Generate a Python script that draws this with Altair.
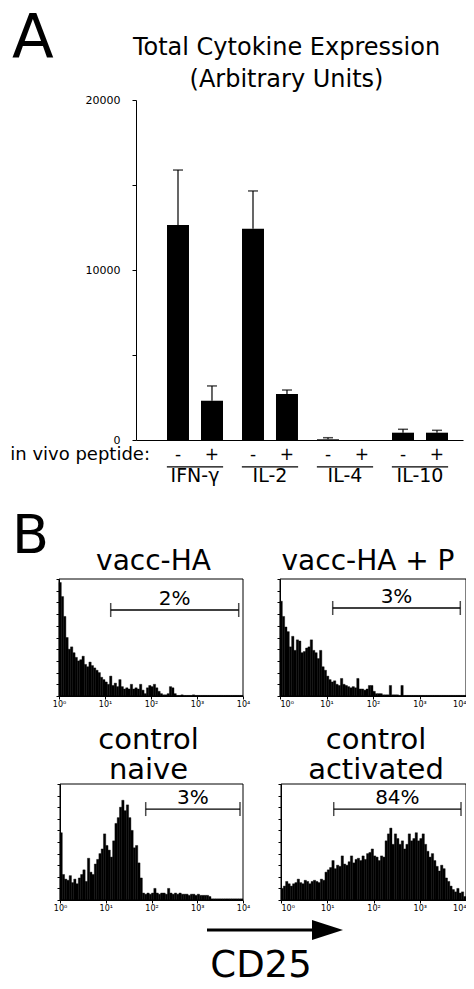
import altair as alt
import pandas as pd

# ---------------- data: panel A (total cytokine expression) ----------------
cytokine = ["IFN-γ", "IFN-γ", "IL-2", "IL-2", "IL-4", "IL-4", "IL-10", "IL-10"]
peptide = ["-", "+", "-", "+", "-", "+", "-", "+"]
expression = [12650, 2310, 12430, 2710, 40, 0, 430, 430]
expression_upper = [15880, 3180, 14650, 2940, 135, 0, 630, 570]
cytokine_order = ["IFN-γ", "IL-2", "IL-4", "IL-10"]
peptide_order = ["-", "+"]
expression_ticks = [0, 5000, 10000, 15000, 20000]

# ---------------- data: panel B (CD25 histograms, 20 channels per decade) ----------------
hist_vacc_ha = [97, 85, 68, 50, 40, 42, 37, 33, 30, 31,
                34, 27, 25, 29, 26, 24, 22, 20, 16, 14,
                12, 10, 17, 9, 11, 8, 14, 8, 6, 7,
                6, 10, 6, 7, 6, 10, 5, 2, 7, 9,
                8, 10, 7, 4, 2, 1, 1, 2, 8, 7,
                2, 0.5, 0.5, 1, 0.5, 0.5, 0.5, 0.5, 1, 0.5,
                0.5, 0.5, 0.5, 0.5, 0.5, 0.5, 0.5, 0.5, 0.5, 0.5,
                0.5, 0.5, 0.5, 0.5, 0.5, 0.5, 0.5, 0.5, 0.5, 0.5]
hist_vacc_ha_p = [81, 68, 59, 55, 42, 51, 39, 48, 47, 37,
                  38, 41, 42, 48, 39, 37, 32, 39, 25, 22,
                  17, 14, 12, 13, 10, 9, 15, 10, 9, 8,
                  7, 8, 7, 15, 6, 6, 5, 6, 9, 9,
                  4, 2, 2, 2, 1, 1, 1, 9, 1, 1,
                  1, 0.5, 9, 0.5, 0.5, 0.5, 0.5, 0.5, 0.5, 0.5,
                  0.5, 0.5, 0.5, 0.5, 0.5, 0.5, 0.5, 0.5, 0.5, 0.5,
                  0.5, 0.5, 0.5, 0.5, 0.5, 0.5, 0.5, 0.5, 0.5, 0.5]
hist_naive = [58, 22, 18, 17, 21, 15, 18, 14, 19, 22,
              26, 16, 36, 24, 22, 31, 35, 40, 44, 57,
              47, 43, 37, 51, 66, 71, 80, 86, 77, 82,
              71, 60, 45, 47, 32, 19, 6, 5, 6, 5,
              6, 10, 6, 5, 6, 6, 5, 10, 6, 5,
              6, 5, 6, 5, 5, 5, 4, 5, 5, 4,
              5, 4, 4, 4, 4, 3, 1, 1, 1, 1,
              1, 1, 1, 1, 1, 1, 1, 1, 1, 1]
hist_activated = [10, 12, 16, 14, 12, 14, 15, 18, 15, 14,
                  17, 16, 14, 16, 17, 16, 15, 18, 17, 24,
                  26, 28, 34, 27, 30, 29, 38, 31, 30, 33,
                  38, 32, 35, 36, 34, 38, 35, 40, 41, 44,
                  38, 37, 34, 38, 37, 51, 57, 62, 48, 57,
                  53, 48, 51, 44, 48, 57, 51, 53, 58, 51,
                  53, 57, 48, 42, 37, 40, 34, 29, 25, 30,
                  27, 19, 16, 12, 9, 7, 10, 6, 7, 3]
gate_low = [13.3, 13.6, 74.7, 13.8]
gate_high = [8070, 7540, 8600, 7800]
gate_level = [73.5, 75.2, 78.4, 78.4]
gate_percent = ["2%", "3%", "3%", "84%"]
decades = [1, 10, 100, 1000, 10000]
count_ticks = [0, 10, 20, 30, 40, 50, 60, 70, 80, 90, 100]
channels_per_decade = 20

# ---------------- layout ----------------
W, H = 458, 980
FONT = "DejaVu Sans"


def px(v):
    # page coordinate -> plot coordinate (page margin is 8px, padding 0)
    return v - 8


dummy = pd.DataFrame({"d": [0]})


def note(text, x, y, size, align="center", baseline="alphabetic", line_height=None):
    props = dict(text=text, fontSize=size, align=align, baseline=baseline, font=FONT, color="black")
    if line_height is not None:
        props["lineHeight"] = line_height
    return alt.Chart(dummy).mark_text(**props).encode(x=alt.value(px(x)), y=alt.value(px(y)))


# ---------------- panel A ----------------
bar_df = pd.DataFrame({"cytokine": cytokine, "peptide": peptide,
                       "value": expression, "upper": expression_upper})
group_df = pd.DataFrame({"cytokine": cytokine_order})

x_scale = alt.Scale(domain=cytokine_order, range=[px(136), px(463)],
                    paddingInner=0, paddingOuter=0.18, align=0.796)
xo_scale = alt.Scale(domain=peptide_order, paddingInner=0.353, paddingOuter=0.28)
y_scale = alt.Scale(domain=[0, 20000], range=[px(440), px(100)], nice=False)

x_axis = alt.Axis(orient="bottom", offset=px(440) - H, labels=False, ticks=False,
                  domainColor="black", domainWidth=1.2, grid=False)
y_axis = alt.Axis(orient="left", offset=-px(136), values=expression_ticks, format="d",
                  labelExpr="datum.value % 10000 === 0 ? datum.label : ''",
                  tickSize=4, labelPadding=12, labelFontSize=11, labelFont=FONT,
                  labelColor="black", tickColor="black", domainColor="black", grid=False)

X = alt.X("cytokine:N", scale=x_scale, title=None, axis=x_axis)
XO = alt.XOffset("peptide:N", scale=xo_scale)

base = alt.Chart(bar_df)
bars = base.mark_bar(color="black").encode(
    x=X, xOffset=XO, y=alt.Y("value:Q", scale=y_scale, title=None, axis=y_axis))
err = base.transform_filter("datum.upper > datum.value").mark_rule(
    color="black", strokeWidth=1.2).encode(
    x=X, xOffset=XO, y=alt.Y("value:Q", scale=y_scale, title=None, axis=y_axis), y2="upper:Q")
cap = base.transform_filter("datum.upper > datum.value").mark_tick(
    color="black", orient="horizontal", size=10, thickness=1.5).encode(
    x=X, xOffset=XO, y=alt.Y("upper:Q", scale=y_scale, title=None, axis=y_axis))
signs = base.mark_text(fontSize=17, font=FONT, baseline="middle", color="black").encode(
    x=X, xOffset=XO, y=alt.value(px(455)), text="peptide:N")
group_lines = alt.Chart(group_df).mark_bar(
    color="black", width=alt.RelativeBandSize(0.75)).encode(
    x=X, y=alt.value(px(466.2)), y2=alt.value(px(467.4)))
group_labels = alt.Chart(group_df).mark_text(
    fontSize=19, font=FONT, baseline="alphabetic", color="black").encode(
    x=X, y=alt.value(px(482)), text="cytokine:N")

panel_a = alt.layer(bars, err, cap, signs, group_lines, group_labels)


# ---------------- panel B ----------------
def histogram(counts, k, left, right, top, bottom, flush):
    n = len(counts)
    df = pd.DataFrame({
        "lo": [10 ** (i / channels_per_decade) for i in range(n)],
        "hi": [10 ** ((i + 1) / channels_per_decade) for i in range(n)],
        "count": counts,
    })
    frame_df = pd.DataFrame({"x0": [decades[0]], "x1": [decades[-1]], "y0": [0], "y1": [100]})
    gate_df = pd.DataFrame({"lo": [gate_low[k]], "hi": [gate_high[k]],
                            "level": [gate_level[k]], "pct": [gate_percent[k]]})
    xs = alt.Scale(type="log", domain=[decades[0], decades[-1]],
                   range=[px(left), px(right)], nice=False)
    ys = alt.Scale(domain=[0, 100], range=[px(bottom), px(top)], nice=False)
    xaxis = alt.Axis(orient="bottom", offset=px(bottom) - H, values=decades,
                     labelExpr="'10' + ['⁰','¹','²','³','⁴'][round(log(datum.value) / LN10)]",
                     tickSize=3, labelFontSize=8, labelPadding=1, labelFlush=flush,
                     labelFont=FONT, labelColor="black", tickColor="black",
                     domainColor="black", grid=False)
    yaxis = alt.Axis(orient="left", offset=-px(left), values=count_ticks, labels=False,
                     tickSize=3, tickColor="black", domainColor="black", grid=False)

    def xe(f):
        return alt.X(f, scale=xs, title=None, axis=xaxis)

    def ye(f):
        return alt.Y(f, scale=ys, title=None, axis=yaxis)

    bins = alt.Chart(df).mark_rect(color="black", stroke="black", strokeWidth=0.4).encode(
        x=xe("lo:Q"), x2="hi:Q", y=ye("count:Q"), y2=alt.datum(0))
    frame = alt.Chart(frame_df).mark_rect(fillOpacity=0, stroke="black", strokeWidth=1).encode(
        x=xe("x0:Q"), x2="x1:Q", y=ye("y0:Q"), y2="y1:Q")
    gate = alt.Chart(gate_df).mark_rule(color="black", strokeWidth=1.3).encode(
        x=xe("lo:Q"), x2="hi:Q", y=ye("level:Q"))
    ends = alt.Chart(gate_df).transform_fold(["lo", "hi"], as_=["end", "pos"]).mark_tick(
        orient="vertical", size=14, thickness=1.5, color="black").encode(
        x=xe("pos:Q"), y=ye("level:Q"))
    label = alt.Chart(gate_df).transform_calculate(mid="sqrt(datum.lo * datum.hi)").mark_text(
        fontSize=20, font=FONT, dy=-5, baseline="alphabetic", color="black").encode(
        x=xe("mid:Q"), y=ye("level:Q"), text="pct:N")
    return alt.layer(bins, frame, gate, ends, label)


h1 = histogram(hist_vacc_ha, 0, 59, 243, 579, 696, False)
h2 = histogram(hist_vacc_ha_p, 1, 280, 466, 579, 696, True)
h3 = histogram(hist_naive, 2, 60, 243, 784, 900, False)
h4 = histogram(hist_activated, 3, 281, 466, 784, 900, True)

notes = [
    note("A", 12, 57, 61, align="left"),
    note("Total Cytokine Expression", 286.5, 55, 24),
    note("(Arbitrary Units)", 286.5, 87, 24),
    note("in vivo peptide:", 150, 460, 18, align="right"),
    note("B", 12, 553, 54, align="left"),
    note("vacc-HA", 153.5, 570, 28),
    note("vacc-HA + P", 368, 570, 28),
    note(["control", "naive"], 148.5, 748.5, 29, line_height=30),
    note(["control", "activated"], 376, 748.5, 29, line_height=30),
    note("CD25", 261, 977, 37),
]

shaft = alt.Chart(dummy).mark_rule(color="black", strokeWidth=3).encode(
    x=alt.value(px(207)), x2=alt.value(px(316)), y=alt.value(px(930)))
head = alt.Chart(dummy).mark_point(
    shape="M -1 -0.65 L 1 0 L -1 0.65 Z", size=961, filled=True, color="black", opacity=1
).encode(x=alt.value(px(327.5)), y=alt.value(px(930)))

chart = alt.layer(panel_a, h1, h2, h3, h4, *notes, shaft, head).resolve_scale(
    x="independent", y="independent"
).properties(
    width=W, height=H, autosize=alt.AutoSizeParams(type="none"), padding=0
).configure(font=FONT).configure_view(strokeWidth=0).configure_axis(grid=False)

chart.save("out.html", embed_options={"renderer": "svg", "actions": False})
